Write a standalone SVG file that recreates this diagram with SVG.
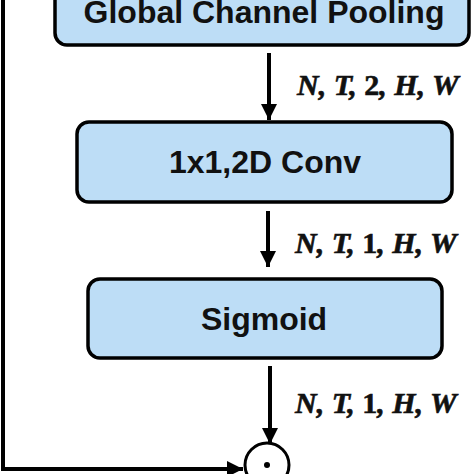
<svg xmlns="http://www.w3.org/2000/svg" width="474" height="474" viewBox="0 0 474 474">
<defs>
<marker id="ah" viewBox="0 0 10 10" refX="10" refY="5" markerWidth="4" markerHeight="4" markerUnits="strokeWidth" orient="auto">
<path d="M0,0 L10,5 L0,10 z" fill="#000"/>
</marker>
<style>
.box{fill:#BDDDF6;stroke:#000;stroke-width:3.5}
.lbl{font-family:"Liberation Sans",Arial,sans-serif;font-weight:bold;font-size:32px;fill:#111;text-anchor:middle}
.dim{font-family:"Liberation Serif","Times New Roman",serif;font-weight:bold;font-style:italic;font-size:30px;fill:#111;stroke:#111;stroke-width:0.6}
.up{font-style:normal}
.con{fill:none;stroke:#000;stroke-width:4}
</style>
</defs>
<rect width="474" height="474" fill="#fff"/>
<g id="pool">
<rect class="box" x="55" y="-40" width="414" height="85" rx="12"/>
<text class="lbl" x="264" y="23">Global Channel Pooling</text>
</g>
<g id="conv">
<rect class="box" x="77" y="122" width="375" height="80" rx="12"/>
<text class="lbl" x="265" y="173">1x1,2D Conv</text>
</g>
<g id="sigmoid">
<rect class="box" x="88" y="279" width="354" height="79" rx="12"/>
<text class="lbl" x="264" y="330">Sigmoid</text>
</g>
<g id="mult">
<circle cx="267" cy="465" r="22" fill="#fff" stroke="#000" stroke-width="3"/>
<circle cx="267" cy="465" r="3" fill="#000"/>
</g>
<g id="connectors">
<line class="con" x1="269" y1="53" x2="269" y2="120" marker-end="url(#ah)"/>
<line class="con" x1="268" y1="211" x2="268" y2="267" marker-end="url(#ah)"/>
<line class="con" x1="270" y1="366" x2="270" y2="444" marker-end="url(#ah)"/>
<polyline class="con" points="3,0 3,469 243,469" marker-end="url(#ah)"/>
<text class="dim" x="297" y="95">N, T, <tspan class="up">2</tspan>, H, W</text>
<text class="dim" x="295" y="253">N, T, <tspan class="up">1</tspan>, H, W</text>
<text class="dim" x="295" y="413">N, T, <tspan class="up">1</tspan>, H, W</text>
</g>
</svg>
